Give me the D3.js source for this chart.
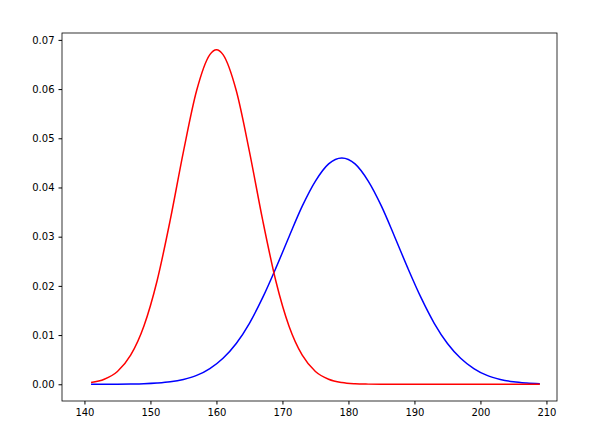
<!DOCTYPE html>
<html>
<head>
<meta charset="UTF-8">
<script src="https://d3js.org/d3.v7.min.js"></script>
<style>
  body { margin: 0; background: #fff; }
  text { font-family: "DejaVu Sans", sans-serif; }
</style>
</head>
<body>
<svg width="592" height="433"></svg>
<script>
  // values
  const redX = [141,143,145,147,149,151,153,155,157,159,160,161,163,165,167,169,171,173,175,177,179,181,183,185,190,195,200,205,209];
  const redY = [0.00036,0.00103,0.0026,0.0059,0.0118,0.0210,0.0334,0.0473,0.0597,0.0670,0.068,0.0670,0.0597,0.0473,0.0334,0.0210,0.0118,0.0059,0.0026,0.00103,0.00036,0.00011,0.00003,0,0,0,0,0,0];
  const blueX = [141,143,145,147,149,151,153,155,157,159,161,163,165,167,169,171,173,175,177,179,181,183,185,187,189,191,193,195,197,199,201,203,205,207,209];
  const blueY = [0,0.00001,0.00002,0.00005,0.00011,0.00025,0.0005,0.00099,0.0018,0.0032,0.0053,0.0083,0.0124,0.0176,0.0236,0.030,0.0362,0.0413,0.0448,0.046,0.0448,0.0413,0.0362,0.030,0.0236,0.0176,0.0124,0.0083,0.0053,0.0032,0.0018,0.00099,0.0005,0.00025,0.00011];
  const xTicks = [140,150,160,170,180,190,200,210];
  const yTicks = [0,0.01,0.02,0.03,0.04,0.05,0.06,0.07];

  const svg = d3.select("svg");
  const L = 62, R = 557, T = 33, B = 401;
  const x = d3.scaleLinear().domain([136.6, 211.6]).range([L, R]);
  const y = d3.scaleLinear().domain([-0.0034, 0.0714]).range([B, T]);

  svg.append("g").attr("transform", `translate(0,${B})`)
    .call(d3.axisBottom(x).tickValues(xTicks).tickSize(3.5).tickPadding(4))
    .call(g => g.select(".domain").remove());
  svg.append("g").attr("transform", `translate(${L},0)`)
    .call(d3.axisLeft(y).tickValues(yTicks).tickFormat(d3.format(".2f")).tickSize(3.5).tickPadding(4))
    .call(g => g.select(".domain").remove());
  svg.selectAll(".tick text").attr("font-size", 10).attr("fill", "#000");
  svg.selectAll(".tick line").attr("stroke", "#000");

  const line = d3.line().curve(d3.curveMonotoneX).x(d => x(d[0])).y(d => y(d[1]));
  svg.append("path").datum(blueX.map((v, i) => [v, blueY[i]]))
    .attr("d", line).attr("fill", "none").attr("stroke", "blue").attr("stroke-width", 1.5);
  svg.append("path").datum(redX.map((v, i) => [v, redY[i]]))
    .attr("d", line).attr("fill", "none").attr("stroke", "red").attr("stroke-width", 1.5);

  svg.append("rect").attr("x", L).attr("y", T).attr("width", R - L).attr("height", B - T)
    .attr("fill", "none").attr("stroke", "#000").attr("stroke-width", 0.8);
</script>
</body>
</html>
